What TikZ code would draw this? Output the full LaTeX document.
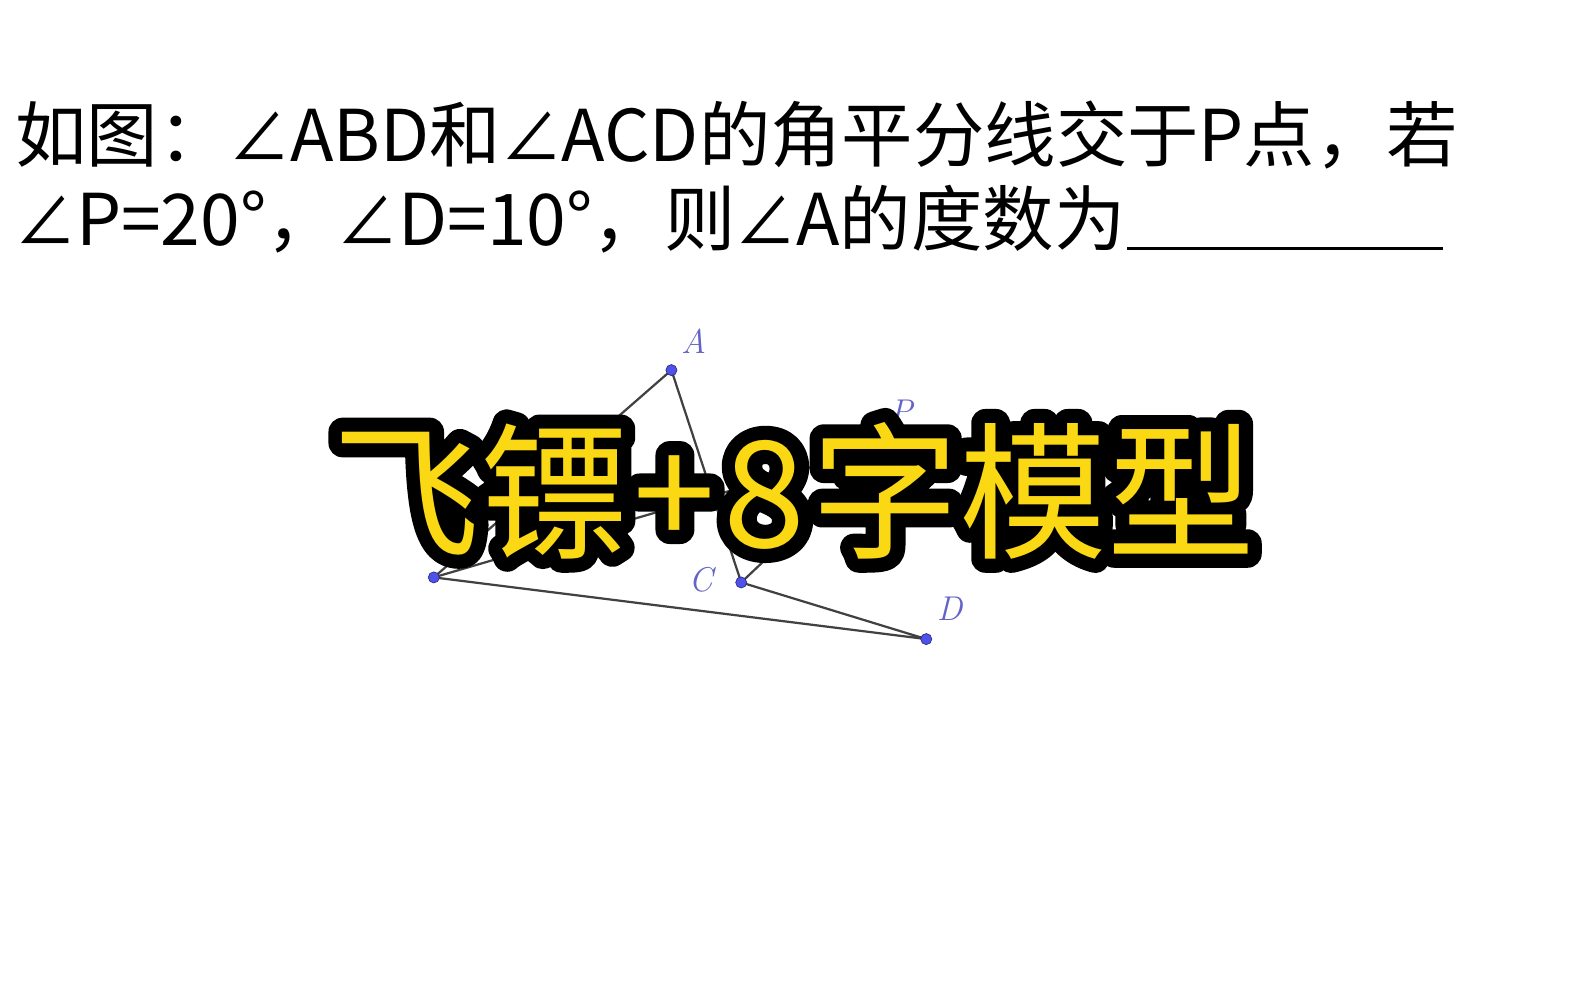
\documentclass[tikz,border=0pt]{standalone}
\usepackage{fontspec}
\newfontfamily\cjk{Noto Sans CJK SC}
\newfontfamily\cjkoutline{Noto Sans CJK SC}[FakeBold=19]
\usetikzlibrary{calc}
\definecolor{ptblue}{RGB}{80,80,235}
\definecolor{ptedge}{RGB}{40,40,120}
\definecolor{lblblue}{RGB}{100,100,200}
\definecolor{seggray}{RGB}{65,65,65}
\definecolor{bigyellow}{RGB}{250,216,20}
\newcommand{\ang}{\scalebox{0.85}[1]{∠}}
\newcommand{\bigphrase}{飞镖\hspace{6pt}+\hspace{8pt}8\hspace{6pt}字模型}
\tikzset{
  seg/.style={draw=seggray, line width=2.2pt},
  pt/.style={circle, fill=ptblue, draw=ptedge, line width=0.6pt, inner sep=0pt, minimum size=11pt},
  lbl/.style={text=lblblue, font=\fontsize{34}{34}\selectfont\itshape},
  title/.style={anchor=base west, inner sep=0pt, font=\cjk\fontsize{70.6}{70.6}\selectfont},
  bigtxt/.style={inner sep=0pt, font=\cjk\fontsize{146}{146}\selectfont},
  bigout/.style={inner sep=0pt, font=\cjkoutline\fontsize{146}{146}\selectfont}
}
\begin{document}
\begin{tikzpicture}[x=1pt,y=-1pt]
\useasboundingbox (0,0) rectangle (1564.5,978);
\fill[white] (0,0) rectangle (1564.5,978);
% title
\node[title] (t1) at (15,160) {如图：\ang ABD和\ang ACD的角平分线交于P点，若};
\node[title] (t2) at (15,243) {\ang P=20°，\ang D=10°，则\ang A的度数为};
\coordinate (u1) at (1115,246);
\coordinate (u2) at (1427,246);
\draw[line width=3pt] (u1) -- (u2);
% geometry
\coordinate (A) at (664,366);
\coordinate (B) at (429,571);
\coordinate (C) at (733,576);
\coordinate (D) at (916,632);
\coordinate (P) at (877,440);
\draw[seg] (A) -- (B) -- (D) -- (C) -- cycle;
\draw[seg] (B) -- (P) -- (C);
\node[pt] (pA) at (A) {};
\node[pt] (pB) at (B) {};
\node[pt] (pC) at (C) {};
\node[pt] (pD) at (D) {};
\node[pt] (pP) at (P) {};
\node[lbl] (lA) at (686,337) {A};
\node[lbl] (lB) at (458,543) {B};
\node[lbl] (lC) at (693,573) {C};
\node[lbl] (lD) at (939,602) {D};
\node[lbl] (lP) at (891,407) {P};
% overlay
\coordinate (M) at (785,485);
\begin{scope}[line join=round, line cap=round]
\node[bigout, text=black] (bigshadow) at (M) {\bigphrase};
\node[bigtxt, text=bigyellow] (big) at (M) {\bigphrase};
\end{scope}
\end{tikzpicture}
\end{document}
